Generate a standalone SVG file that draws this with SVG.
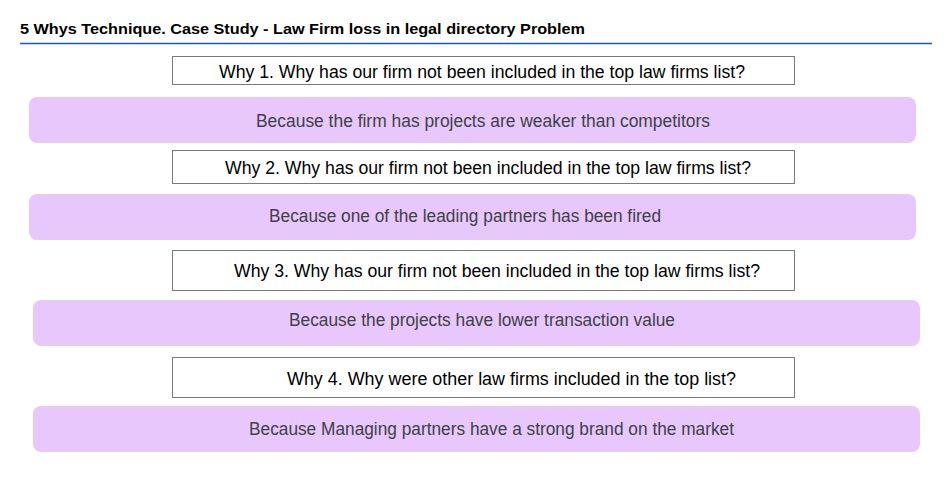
<svg xmlns="http://www.w3.org/2000/svg" width="946" height="486" viewBox="0 0 946 486">
<style>
.title{font-family:"Liberation Sans",Arial,sans-serif;font-weight:bold;font-size:15px;fill:#000}
.why rect{fill:#fff;stroke:#7a7a7a;stroke-width:1}
.why text{font-family:"Liberation Sans",Arial,sans-serif;font-size:17.5px;fill:#000}
.because rect{fill:#e8c8fc}
.because text{font-family:"Liberation Sans",Arial,sans-serif;font-size:17.5px;fill:#404048}
</style>
<rect width="946" height="486" fill="#fff"/>
<g id="title">
<text class="title" x="20" y="34" textLength="565" lengthAdjust="spacingAndGlyphs">5 Whys Technique. Case Study - Law Firm loss in legal directory Problem</text>
<line x1="20" y1="43.5" x2="932" y2="43.5" stroke="#1a56d6" stroke-width="1.5"/>
</g>
<g id="connectors"></g>
<g id="why1" class="why">
<rect x="172.5" y="56.5" width="622" height="28"/>
<text x="219" y="78" textLength="526" lengthAdjust="spacingAndGlyphs">Why 1. Why has our firm not been included in the top law firms list?</text>
</g>
<g id="because1" class="because">
<rect x="29" y="97" width="887" height="46" rx="8"/>
<text x="256" y="127" textLength="454" lengthAdjust="spacingAndGlyphs">Because the firm has projects are weaker than competitors</text>
</g>
<g id="why2" class="why">
<rect x="172.5" y="150.5" width="622" height="33"/>
<text x="225" y="174" textLength="526" lengthAdjust="spacingAndGlyphs">Why 2. Why has our firm not been included in the top law firms list?</text>
</g>
<g id="because2" class="because">
<rect x="29" y="194" width="887" height="46" rx="8"/>
<text x="269" y="222" textLength="392" lengthAdjust="spacingAndGlyphs">Because one of the leading partners has been fired</text>
</g>
<g id="why3" class="why">
<rect x="172.5" y="250.5" width="622" height="40"/>
<text x="234" y="277" textLength="526" lengthAdjust="spacingAndGlyphs">Why 3. Why has our firm not been included in the top law firms list?</text>
</g>
<g id="because3" class="because">
<rect x="33" y="300" width="887" height="46" rx="8"/>
<text x="289" y="326" textLength="386" lengthAdjust="spacingAndGlyphs">Because the projects have lower transaction value</text>
</g>
<g id="why4" class="why">
<rect x="172.5" y="357.5" width="622" height="40"/>
<text x="287" y="385" textLength="449" lengthAdjust="spacingAndGlyphs">Why 4. Why were other law firms included in the top list?</text>
</g>
<g id="because4" class="because">
<rect x="33" y="406" width="887" height="46" rx="8"/>
<text x="249" y="435" textLength="485" lengthAdjust="spacingAndGlyphs">Because Managing partners have a strong brand on the market</text>
</g>
</svg>
